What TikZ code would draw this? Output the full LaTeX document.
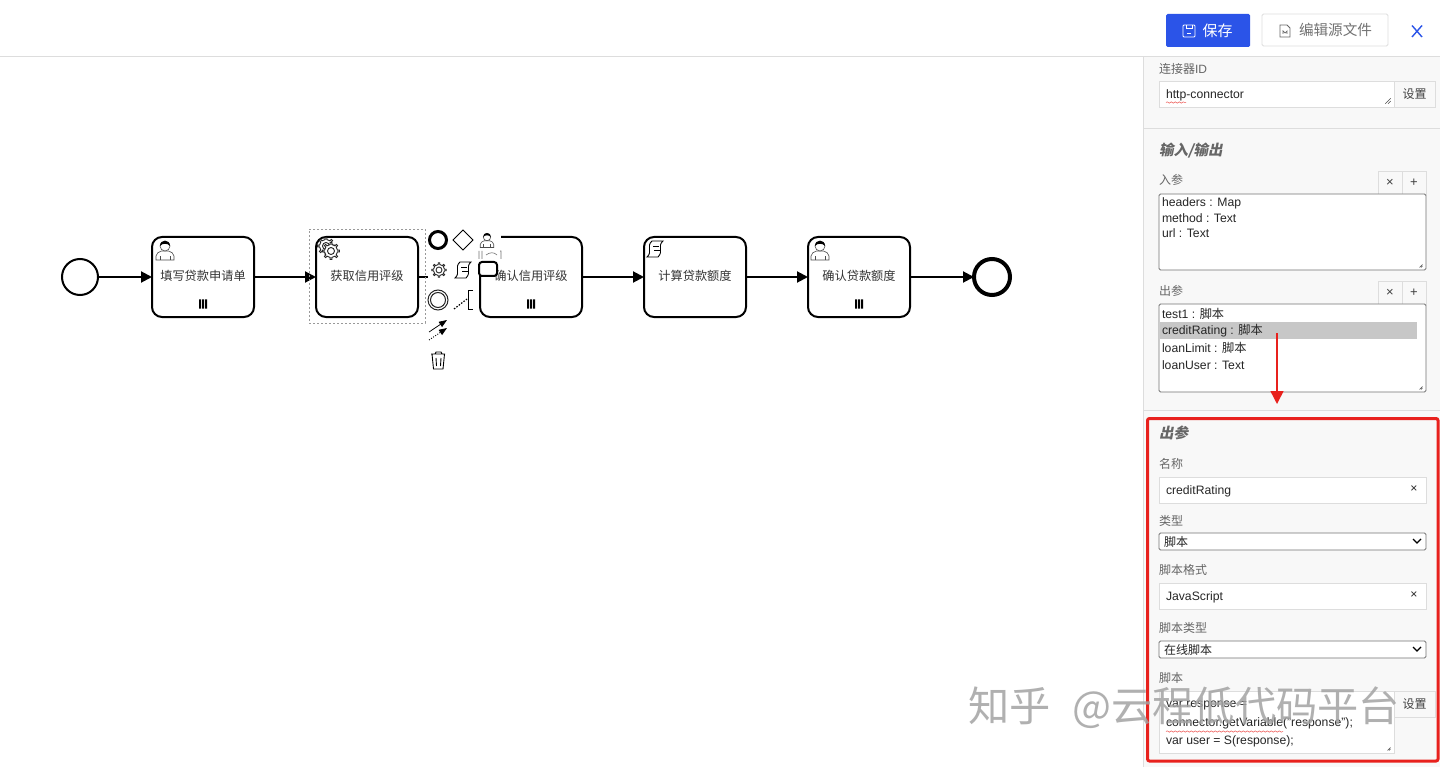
\documentclass[tikz,border=0pt]{standalone}
\usepackage{fontspec}
\setmainfont{Liberation Sans}
\newfontfamily\cjk{Noto Sans CJK SC}
\newfontfamily\cjkhead[FakeSlant=0.2]{Noto Sans CJK SC}
\usetikzlibrary{positioning,arrows.meta,decorations.pathmorphing}
\definecolor{panelbg}{HTML}{F8F8F8}
\definecolor{panelline}{HTML}{DDDDDD}
\definecolor{savecol}{HTML}{2B54E8}
\definecolor{marksred}{HTML}{E8211D}
\definecolor{labelcol}{HTML}{666666}
\tikzset{
pics/usericon/.style={code={
  \draw[line width=.6pt, draw=black!70, fill=white] (-9,10) -- (-9,6) .. controls (-9,3) and (-6,2) .. (-3.5,1) -- (3.5,1) .. controls (6,2) and (9,3) .. (9,6) -- (9,10) -- cycle;
  \draw[line width=.6pt, draw=black!70, fill=white] (0,-4) circle (5);
  \fill (-5,-4) .. controls (-5,-11) and (5,-11) .. (5,-4) .. controls (3,-7) and (-3,-7) .. cycle;
  \draw[line width=.6pt, draw=black!70] (-5,10) -- (-5,6) (5,10) -- (5,6);
}},
pics/gearicon/.style={code={
  \draw[line width=.9pt, draw=black!85, fill=white] (-8:6.5) \foreach \a in {0,45,...,315} { -- (\a-8:6.5) -- (\a-6:8.5) -- (\a+6:8.5) -- (\a+8:6.5) -- (\a+37:6.5) } -- cycle;
  \draw[line width=.9pt, draw=black!85, fill=white] (0,0) circle (3.5);
}},
pics/scripticon/.style={code={
  \draw[line width=.9pt, fill=white] (-3,-8) -- (8,-8) .. controls (2,-3) and (9,2) .. (3,8) -- (-8,8) .. controls (-2,3) and (-9,-3) .. cycle;
  \draw[line width=.8pt] (-2,-3) -- (4,-3) (-1,1) -- (5,1);
}},
pics/multibars/.style={code={
  \fill (-4,-4.5) rectangle (-2,4.5) (-1,-4.5) rectangle (1,4.5) (2,-4.5) rectangle (4,4.5);
}},
pics/resizegrip/.style={code={
  \draw[line width=.5pt, black!70] (-3,3) -- (3,-3) (0,3) -- (3,0);
}},
pics/chevron/.style={code={
  \draw[line width=1.3pt] (-4,-2) -- (0,2) -- (4,-2);
}},
}
\begin{document}
\begin{tikzpicture}[
x=1pt, y=-1pt,
every node/.style={inner sep=0pt, outer sep=0pt},
event/.style={circle, draw=black, line width=2pt, minimum size=36pt, fill=white},
endevent/.style={event, line width=4pt},
task/.style={rectangle, rounded corners=10pt, draw=black, line width=2pt, fill=white, minimum width=102pt, minimum height=80pt, text height=10pt, text depth=4pt, font=\cjk\fontsize{12.2}{12}\selectfont, text=black!80},
flow/.style={line width=2pt, -{Triangle[length=11pt,width=11pt]}},
caption/.style={anchor=west, text=labelcol, font=\cjk\fontsize{12}{12}\selectfont},
heading/.style={anchor=west, text=labelcol, font=\cjkhead\bfseries\fontsize{14.5}{14}\selectfont},
field/.style={rectangle, draw=panelline, fill=white, line width=.8pt, anchor=north west, minimum height=26pt},
listbox/.style={rectangle, draw=black!55, fill=white, line width=.8pt, rounded corners=1.5pt, anchor=north west},
selectbox/.style={listbox, minimum width=267pt, minimum height=17pt},
entry/.style={anchor=west, text=black!85, font=\fontsize{12.2}{12}\selectfont},
button/.style={rectangle, draw=panelline, fill=panelbg, line width=.8pt, anchor=north west, text=black!75, font=\cjk\fontsize{12}{12}\selectfont},
smallbutton/.style={button, minimum width=24pt, minimum height=23pt, font=\fontsize{13}{13}\selectfont},
]
\useasboundingbox (0,0) rectangle (1440,767);
\fill[white] (0,0) rectangle (1440,767);

% process
\node[event] (start) at (80,277) {};
\node[task] (fill) at (203,277) {填写贷款申请单};
\node[task] (rating) [right=62pt of fill] {获取信用评级};
\node[task] (confirm) [right=62pt of rating] {确认信用评级};
\node[task] (calc) [right=62pt of confirm] {计算贷款额度};
\node[task] (limit) [right=62pt of calc] {确认贷款额度};
\node[endevent] (finish) at (992,277) {};
\draw[flow] (start) -- (fill);
\draw[flow] (fill) -- (rating);
\draw[flow] (rating) -- (confirm);
\draw[flow] (confirm) -- (calc);
\draw[flow] (calc) -- (limit);
\draw[flow] (limit) -- (finish);
\pic at (165,250) {usericon};
\pic at (326,246) {gearicon};
\pic at (331,251) {gearicon};
\pic at (655,249) {scripticon};
\pic at (820,250) {usericon};
\pic at (203,304) {multibars};
\pic at (531,304) {multibars};
\pic at (859,304) {multibars};

% context pad
\fill[white] (428,229) rectangle (501,262);
\fill[white] (428,262) rectangle (479,284);
\node[draw=black!40, dash pattern=on 2pt off 2pt, line width=.7pt, minimum width=116pt, minimum height=94pt, anchor=north west] (selection) at (309,229) {};
\node[circle, draw=black, line width=3pt, minimum size=17pt] (padend) at (438,240) {};
\node[draw=black, line width=.9pt, rotate=45, minimum size=14pt] (padgate) at (463,240) {};
\pic[scale=.75] at (487,240) {usericon};
\draw[black!55, line width=.6pt] (479,251) -- (479,259) (482,251) -- (482,259) (486,255) .. controls (490,252) and (494,252) .. (497,255) (500,251) -- (501,251) -- (501,259);
\pic[scale=.85] at (439,270) {gearicon};
\pic at (463,270) {scripticon};
\node[draw=black, fill=white, line width=2pt, rounded corners=3pt, minimum width=18pt, minimum height=14pt] (padtask) at (488,269) {};
\node[circle, draw=black!85, line width=1pt, minimum size=20pt] (padouter) at (438,300) {};
\node[circle, draw=black!85, line width=1pt, minimum size=15pt] (padinner) at (438,300) {};
\coordinate (dotfrom) at (454,309);
\coordinate (dotto) at (467,299);
\draw[dash pattern=on 1.5pt off 1.5pt, line width=1.2pt] (dotfrom) -- (dotto);
\draw[line width=.8pt] (473,290) -- (468,290) -- (468,309) -- (473,309);
\coordinate (seqfrom) at (429,332);
\coordinate (seqto) at (447,320);
\coordinate (assocfrom) at (429,340);
\coordinate (assocto) at (447,328);
\draw[line width=.7pt, -{Triangle[length=8pt,width=6pt]}] (seqfrom) -- (seqto);
\draw[dash pattern=on 1pt off 1.5pt, line width=.9pt, -{Triangle[length=8pt,width=6pt]}] (assocfrom) -- (assocto);
\draw[line width=.9pt] (431,354) -- (445,354) (435,354) -- (436,352) -- (441,352) -- (442,354) (432,354) -- (433.5,369) -- (443,369) -- (444.5,354) (436,358) -- (436.5,366) (441,358) -- (440.5,366);

% panel
\fill[panelbg] (1144,57) rectangle (1440,767);
\draw[panelline, line width=.8pt] (0,56.5) -- (1440,56.5);
\draw[panelline, line width=.8pt] (1143.5,57) -- (1143.5,767);
\draw[panelline, line width=.8pt] (1144,128) -- (1440,128);
\draw[panelline, line width=.8pt] (1144,410) -- (1440,410);

% toolbar
\node[rectangle, rounded corners=1.5pt, fill=savecol, text=white, minimum width=84pt, minimum height=33pt, anchor=north west, font=\cjk\fontsize{15}{15}\selectfont] (save) at (1166,14) {\hspace{19pt}保存};
\draw[white, line width=.9pt, rounded corners=1pt] (1183,25) rectangle (1195,37);
\draw[white, line width=.8pt] (1186,25) -- (1186,28) -- (1192,28) -- (1192,25) (1187,33) -- (1191,33);
\node[rectangle, rounded corners=1.5pt, draw=panelline, fill=white, line width=.8pt, text=black!55, minimum width=126pt, minimum height=32pt, anchor=north west, font=\cjk\fontsize{14.6}{15}\selectfont] (source) at (1262,14) {\hspace{21pt}编辑源文件};
\draw[black!60, line width=.9pt] (1280,25) -- (1287,25) -- (1290,28) -- (1290,37) -- (1280,37) -- cycle;
\draw[black!60, line width=.7pt] (1283,34) -- (1283,31) -- (1285,33) -- (1287,31) -- (1287,34);
\draw[savecol, line width=1.4pt] (1412,25.5) -- (1422,37) (1422,25.5) -- (1412,37);

% connector
\node[caption] (connlabel) at (1159,69) {连接器{\fontspec{Liberation Sans}ID}};
\node[field, minimum width=235pt] (connfield) at (1159,81) {};
\node[entry] (conntext) at (1166,95) {http-connector};
\node[button, minimum width=41pt, minimum height=26pt] (connset) at (1394,81) {设置};
\pic[scale=.9] at (1388,101) {resizegrip};
\draw[marksred!80, line width=.5pt, decorate, decoration={snake, amplitude=.7pt, segment length=4pt}] (1166,102.5) -- (1186,102.5);

% input and output
\node[heading] (iohead) at (1159,151) {输入/输出};
\node[caption] (inlabel) at (1159,180) {入参};
\node[smallbutton] (inclear) at (1378,171) {×};
\node[smallbutton] (inadd) at (1402,171) {+};
\node[listbox, minimum width=267pt, minimum height=76pt] (inlist) at (1159,194) {};
\node[entry] (inone) at (1162,203) {headers : Map};
\node[entry] (intwo) at (1162,218) {method : Text};
\node[entry] (inthree) at (1162,233) {url : Text};
\pic[scale=.5] at (1421,266) {resizegrip};
\node[caption] (outlabel) at (1159,291) {出参};
\node[smallbutton] (outclear) at (1378,281) {×};
\node[smallbutton] (outadd) at (1402,281) {+};
\node[listbox, minimum width=267pt, minimum height=88pt] (outlist) at (1159,304) {};
\fill[black!22] (1160,322) rectangle (1417,339);
\node[entry] (outone) at (1162,314) {test1 : {\cjk 脚本}};
\node[entry] (outtwo) at (1162,331) {creditRating : {\cjk 脚本}};
\node[entry] (outthree) at (1162,348) {loanLimit : {\cjk 脚本}};
\node[entry] (outfour) at (1162,365) {loanUser : Text};
\pic[scale=.5] at (1421,388) {resizegrip};

% parameter form
\node[heading] (formhead) at (1159,433) {出参};
\node[caption] (namelabel) at (1159,464) {名称};
\node[field, minimum width=267pt] (namefield) at (1159,477) {};
\node[entry] (nametext) at (1166,491) {creditRating};
\node[entry, anchor=center] (nameclear) at (1414,489) {×};
\node[caption] (typelabel) at (1159,521) {类型};
\node[selectbox] (typebox) at (1159,533) {};
\node[entry, font=\cjk\fontsize{12}{12}\selectfont] (typetext) at (1164,541.5) {脚本};
\pic at (1417,541) {chevron};
\node[caption] (formatlabel) at (1159,570) {脚本格式};
\node[field, minimum width=267pt] (formatfield) at (1159,583) {};
\node[entry] (formattext) at (1166,597) {JavaScript};
\node[entry, anchor=center] (formatclear) at (1414,595) {×};
\node[caption] (kindlabel) at (1159,628) {脚本类型};
\node[selectbox] (kindbox) at (1159,641) {};
\node[entry, font=\cjk\fontsize{12}{12}\selectfont] (kindtext) at (1164,649.5) {在线脚本};
\pic at (1417,649) {chevron};
\node[caption] (scriptlabel) at (1159,678) {脚本};
\node[field, minimum width=235pt, minimum height=62pt] (scriptfield) at (1159,691) {};
\node[button, minimum width=41pt, minimum height=26pt] (scriptset) at (1394,691) {设置};
\node[entry] (lineone) at (1166,705) {var response =};
\node[entry] (linetwo) at (1166,723) {connector.getVariable("response");};
\node[entry] (linethree) at (1166,741) {var user = S(response);};
\draw[marksred!80, line width=.5pt, decorate, decoration={snake, amplitude=.7pt, segment length=4pt}] (1166,731.5) -- (1283,731.5);
\pic[scale=.5] at (1389,749) {resizegrip};

% red marks
\draw[marksred, line width=3pt, rounded corners=2pt] (1147.5,418.5) rectangle (1438,761);
\coordinate (markfrom) at (1277,333);
\coordinate (markto) at (1277,404);
\draw[marksred, line width=1.5pt, -{Triangle[length=13pt,width=13pt]}] (markfrom) -- (markto);

% watermark
\node[anchor=west, text=black!36, opacity=.85, font=\cjk\fontsize{41.2}{41}\selectfont] (watermark) at (968,708) {知乎\hspace{13pt} @云程低代码平台};
\end{tikzpicture}
\end{document}
